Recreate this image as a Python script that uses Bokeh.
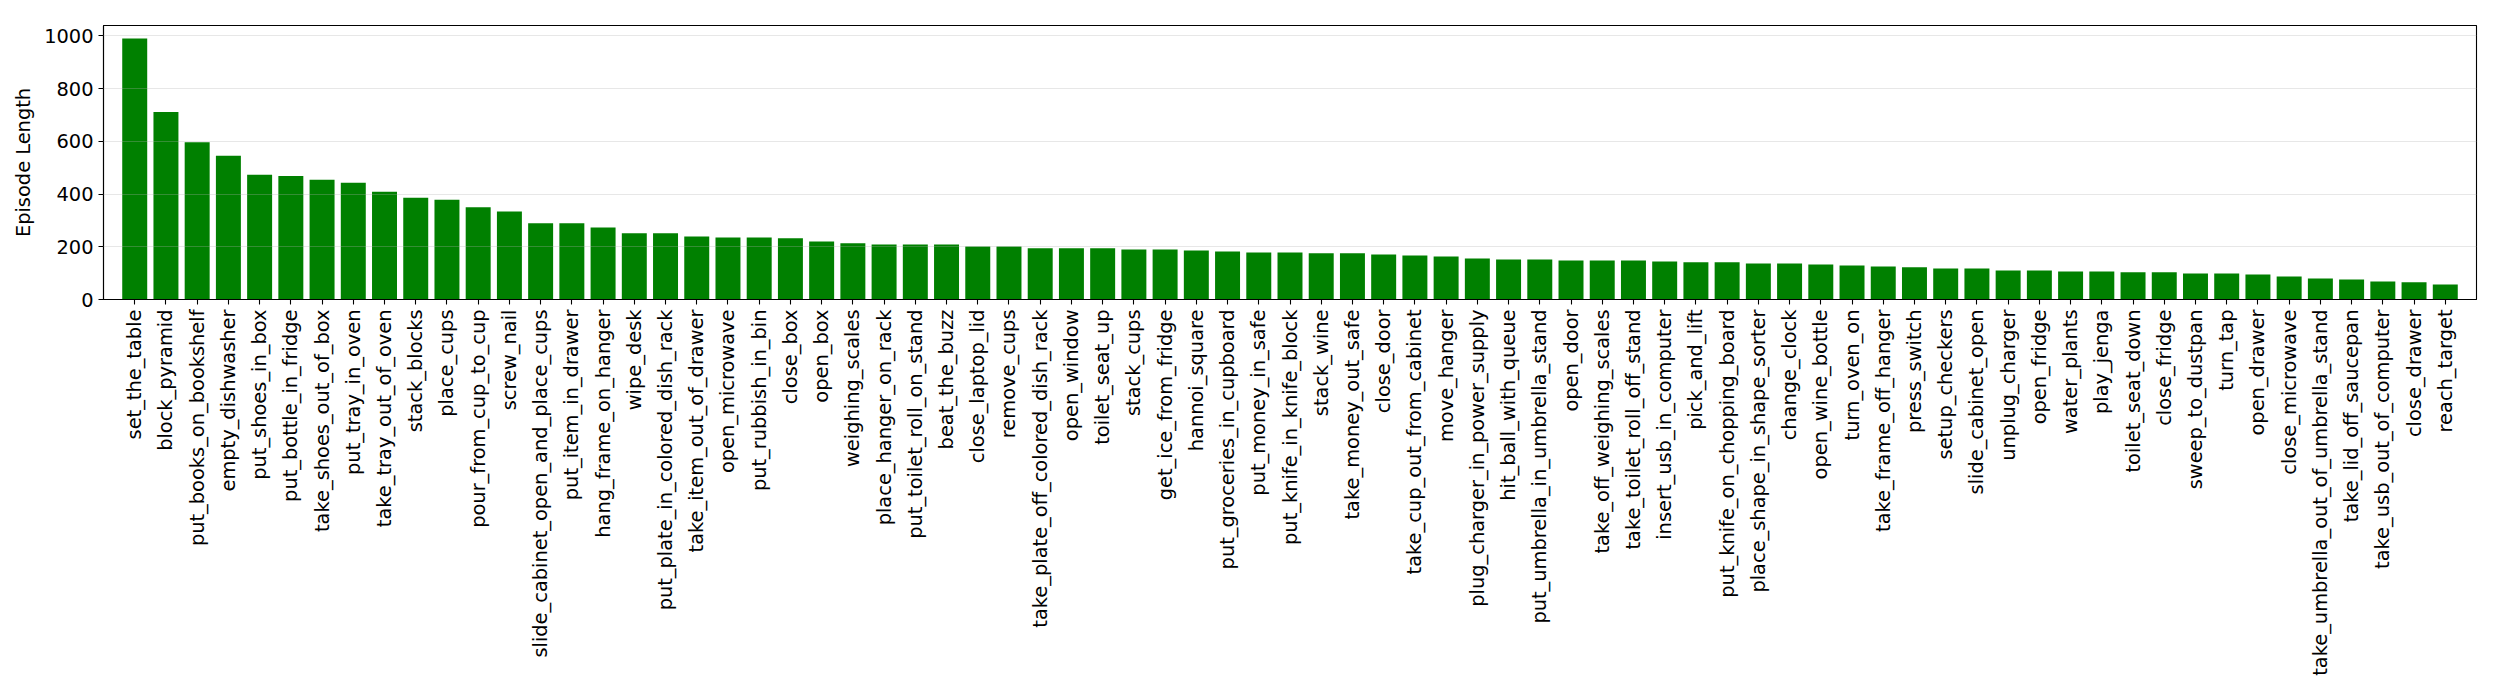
import math
from bokeh.plotting import figure
from bokeh.models import ColumnDataSource, FactorRange, Range1d, FixedTicker
from bokeh.embed import file_html
from bokeh.resources import INLINE

tasks = [
    "set_the_table", "block_pyramid", "put_books_on_bookshelf", "empty_dishwasher",
    "put_shoes_in_box", "put_bottle_in_fridge", "take_shoes_out_of_box", "put_tray_in_oven",
    "take_tray_out_of_oven", "stack_blocks", "place_cups", "pour_from_cup_to_cup",
    "screw_nail", "slide_cabinet_open_and_place_cups", "put_item_in_drawer",
    "hang_frame_on_hanger", "wipe_desk", "put_plate_in_colored_dish_rack",
    "take_item_out_of_drawer", "open_microwave", "put_rubbish_in_bin", "close_box",
    "open_box", "weighing_scales", "place_hanger_on_rack", "put_toilet_roll_on_stand",
    "beat_the_buzz", "close_laptop_lid", "remove_cups", "take_plate_off_colored_dish_rack",
    "open_window", "toilet_seat_up", "stack_cups", "get_ice_from_fridge", "hannoi_square",
    "put_groceries_in_cupboard", "put_money_in_safe", "put_knife_in_knife_block",
    "stack_wine", "take_money_out_safe", "close_door", "take_cup_out_from_cabinet",
    "move_hanger", "plug_charger_in_power_supply", "hit_ball_with_queue",
    "put_umbrella_in_umbrella_stand", "open_door", "take_off_weighing_scales",
    "take_toilet_roll_off_stand", "insert_usb_in_computer", "pick_and_lift",
    "put_knife_on_chopping_board", "place_shape_in_shape_sorter", "change_clock",
    "open_wine_bottle", "turn_oven_on", "take_frame_off_hanger", "press_switch",
    "setup_checkers", "slide_cabinet_open", "unplug_charger", "open_fridge",
    "water_plants", "play_jenga", "toilet_seat_down", "close_fridge", "sweep_to_dustpan",
    "turn_tap", "open_drawer", "close_microwave", "take_umbrella_out_of_umbrella_stand",
    "take_lid_off_saucepan", "take_usb_out_of_computer", "close_drawer", "reach_target",
]

episode_length = [
    990, 711, 597, 545, 473, 469, 454, 443, 409, 386, 378, 350, 334, 289, 289,
    273, 251, 251, 239, 235, 235, 232, 220, 213, 209, 209, 209, 201, 201, 194,
    194, 194, 190, 190, 186, 182, 178, 178, 175, 175, 171, 167, 163, 156, 152,
    152, 148, 148, 148, 144, 141, 141, 137, 137, 133, 129, 125, 122, 118, 118,
    110, 110, 106, 106, 103, 103, 99, 99, 95, 87, 80, 76, 68, 65, 57,
]

y_ticks = [0, 200, 400, 600, 800, 1000]

FONT = "DejaVu Sans"
FONT_SIZE = "19.4px"

source = ColumnDataSource(data=dict(task=tasks, length=episode_length))

p = figure(
    width=2484, height=684,
    x_range=FactorRange(factors=tasks, range_padding=0.5, range_padding_units="absolute"),
    y_range=Range1d(0, max(episode_length) * 1.05),
    output_backend="svg", toolbar_location=None,
    min_border_left=103, min_border_right=8, min_border_top=25, min_border_bottom=385,
)

p.vbar(x="task", top="length", width=0.8, source=source,
       fill_color="#008000", line_color=None)

p.background_fill_color = "white"
p.border_fill_color = "white"
p.outline_line_color = "black"
p.outline_line_width = 1.1

p.xgrid.visible = False
p.ygrid.grid_line_color = "#b0b0b0"
p.ygrid.grid_line_alpha = 0.3
p.ygrid.grid_line_width = 1.1
p.ygrid.level = "overlay"

p.yaxis.ticker = FixedTicker(ticks=y_ticks)
p.yaxis.axis_label = "Episode Length"

for ax in (p.xaxis[0], p.yaxis[0]):
    ax.axis_line_color = "black"
    ax.axis_line_width = 1.1
    ax.major_tick_line_color = "black"
    ax.major_tick_line_width = 1.1
    ax.major_tick_out = 5
    ax.major_tick_in = 0
    ax.minor_tick_line_color = None
    ax.major_label_text_font = FONT
    ax.major_label_text_font_size = FONT_SIZE
    ax.major_label_text_color = "black"
    ax.axis_label_text_font = FONT
    ax.axis_label_text_font_size = FONT_SIZE
    ax.axis_label_text_font_style = "normal"
    ax.axis_label_text_color = "black"

p.xaxis.major_label_orientation = math.pi / 2
p.xaxis.major_label_standoff = 5
p.yaxis.major_label_standoff = 5
p.yaxis.axis_label_standoff = 6

open("out.html", "w").write(file_html(p, INLINE))
